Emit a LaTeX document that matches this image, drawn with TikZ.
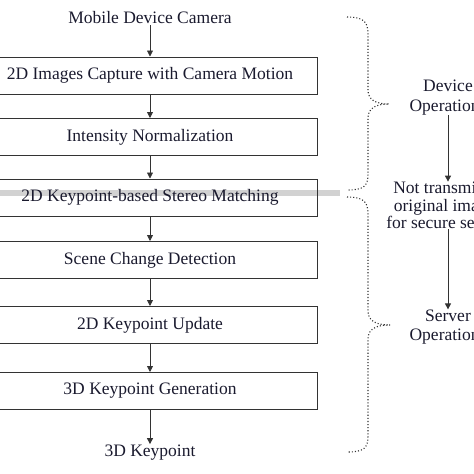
\documentclass[tikz,border=0pt]{standalone}
\usepackage{fontspec}
\setmainfont{Liberation Serif}
\usetikzlibrary{arrows.meta}
\definecolor{txt}{HTML}{1A1A2E}
\definecolor{ln}{HTML}{333333}
\begin{document}
\begin{tikzpicture}[x=1pt,y=-1pt,
  every node/.style={text=txt,font=\fontsize{17.5}{19}\selectfont},
  stepbox/.style={draw=ln,line width=1pt,minimum width=334pt,minimum height=37pt,inner sep=0pt},
  plain/.style={inner sep=1pt},
  arr/.style={draw=ln,line width=0.8pt,-{Triangle[length=6pt,width=6pt]}},
  brace/.style={draw=ln,line width=1.1pt,dotted},
  side/.style={align=center,inner sep=0pt}]
\useasboundingbox (0,0) rectangle (474,474);
\fill[gray!35] (0,190) rectangle (340,195.5);
\node[plain] (cam) at (150,18) {Mobile Device Camera};
\node[stepbox] (b1) at (150,75.5) {2D Images Capture with Camera Motion};
\node[stepbox] (b2) at (150,137) {Intensity Normalization};
\node[stepbox] (b3) at (150,197.5) {2D Keypoint-based Stereo Matching};
\node[stepbox] (b4) at (150,260) {Scene Change Detection};
\node[stepbox] (b5) at (150,325) {2D Keypoint Update};
\node[stepbox] (b6) at (150,391) {3D Keypoint Generation};
\node[plain] (kp) at (150,453) {3D Keypoint};
\draw[arr] (cam) -- (b1);
\draw[arr] (b1) -- (b2);
\draw[arr] (b2) -- (b3);
\draw[arr] (b3) -- (b4);
\draw[arr] (b4) -- (b5);
\draw[arr] (b5) -- (b6);
\draw[arr] (b6) -- (kp);
% braces
\coordinate (t1) at (347,17);
\coordinate (m1) at (389,104);
\coordinate (e1) at (347,190);
\draw[brace] (t1) .. controls (364,17) and (368,22) .. (368,34) -- (368,90)
  .. controls (368,100) and (376,104) .. (m1)
  .. controls (376,104) and (368,108) .. (368,118) -- (368,174)
  .. controls (368,186) and (364,190) .. (e1);
\coordinate (t2) at (347,197);
\coordinate (m2) at (390,325);
\coordinate (e2) at (347,452);
\draw[brace] (t2) .. controls (364,197) and (368,202) .. (368,214) -- (368,311)
  .. controls (368,321) and (376,325) .. (m2)
  .. controls (376,325) and (368,329) .. (368,339) -- (368,436)
  .. controls (368,448) and (364,452) .. (e2);
\node[side,font=\fontsize{17.5}{19.5}\selectfont] (dev) at (448,97.5) {Device\\Operations};
\node[side,font=\fontsize{17.5}{17.5}\selectfont] (nt) at (448,205.5) {Not transmitted\\original images\\for secure service};
\node[side,font=\fontsize{17.5}{19.5}\selectfont] (srv) at (448,327) {Server\\Operations};
\draw[arr] (dev) -- (nt);
\draw[arr] (nt) -- (srv);
\end{tikzpicture}
\end{document}
